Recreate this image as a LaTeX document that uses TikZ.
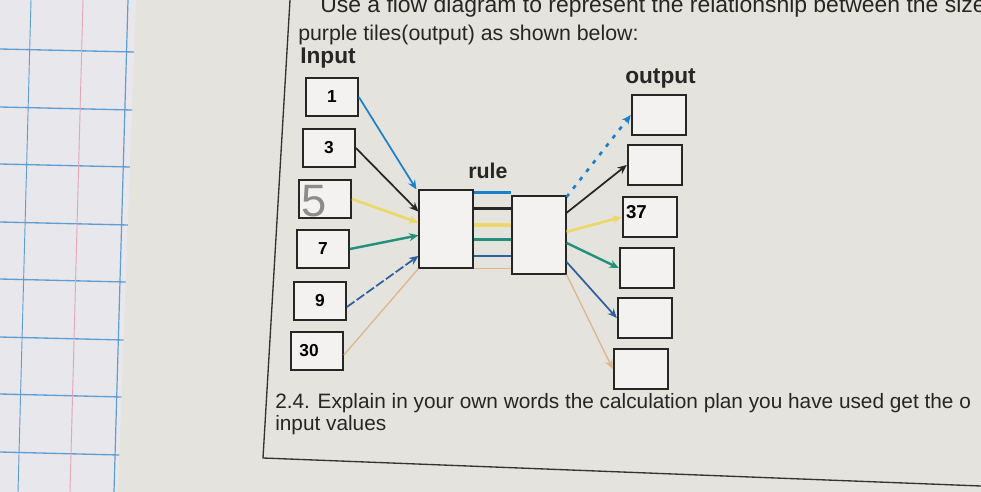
\documentclass[tikz,border=0pt]{standalone}
\usepackage{fontspec}
\setmainfont{Liberation Sans}
\usetikzlibrary{calc,arrows.meta}
\definecolor{paper}{HTML}{E4E3DE}
\definecolor{pad}{HTML}{E8E7EC}
\definecolor{gridblue}{HTML}{5E9ED3}
\definecolor{marginpink}{HTML}{E2A6B4}
\definecolor{penblue}{HTML}{1F80C9}
\definecolor{penyellow}{HTML}{EBD868}
\definecolor{penteal}{HTML}{22907A}
\definecolor{pennavy}{HTML}{305F9E}
\definecolor{penorange}{HTML}{DDB78C}
\definecolor{pencil}{HTML}{8C8C8C}
\tikzset{
  tile/.style={draw=black!85, line width=1.3pt, fill=white!55!paper,
    minimum width=39pt, minimum height=28pt, inner sep=0pt,
    font=\fontsize{13}{13}\selectfont\bfseries},
  outtile/.style={tile, minimum width=41pt, minimum height=30pt},
  rulebox/.style={tile, minimum width=40pt, minimum height=58pt},
  penline/.style={line width=1.3pt, -{Stealth[length=7pt,width=6pt]}},
  body/.style={inner sep=0pt, text=black!85, font=\fontsize{16}{18}\selectfont},
}
\begin{document}
\begin{tikzpicture}[x=0.75pt,y=-0.75pt]
\useasboundingbox (0,0) rectangle (981,492);
\clip (0,0) rectangle (981,492);
% paper
\fill[paper] (0,0) rectangle (981,492);
\fill[pad] (0,0) -- (136,0) -- (118,492) -- (0,492) -- cycle;
\foreach \y in {49,107,164,222,279,337,394,452}
  \draw[gridblue, line width=1pt] (0,\y) -- ({136-\y*0.037},\y+3);
\draw[gridblue, line width=0.7pt] (31,0) -- (18,492);
\draw[marginpink, line width=0.7pt] (83,0) -- (70,492);
\draw[gridblue, line width=0.9pt] (128,0) -- (114,492);
% worksheet frame
\draw[black!80, line width=1pt] (290,0) -- (263,458) -- (981,486);
% question text
\node[body, anchor=base west, font=\fontsize{17.2}{18}\selectfont] (q1) at (320,13) {Use a flow diagram to represent the relationship between the size};
\node[body, anchor=base west] (q2) at (298,41) {purple tiles(output) as shown below:};
\node[body, anchor=base west, font=\fontsize{17}{17}\selectfont\bfseries] (inlab) at (300,64) {Input};
\node[body, anchor=base west, font=\fontsize{17}{17}\selectfont\bfseries] (outlab) at (625,84) {output};
\node[body, anchor=base west, font=\fontsize{16}{16}\selectfont\bfseries] (rulelab) at (468,178) {rule};
% input tiles
\node[tile] (in1) at (332,97) {1};
\node[tile] (in3) at (329,148) {3};
\node[tile] (in5) at (325,199) {};
\node[anchor=west, inner sep=0pt, text=pencil, font=\fontsize{34}{34}\selectfont] (five) at ($(in5.west)+(3,2)$) {5};
\node[tile] (in7) at (323,249) {7};
\node[tile] (in9) at (320,301) {9};
\node[tile] (in30) at (317,351) {\hspace*{-12pt}30};
% rule boxes
\node[rulebox] (ruleL) at (446,229) {};
\node[rulebox] (ruleR) at (539,235) {};
\foreach \f/\c/\w in {0.04/penblue/2.6, 0.24/black!85/1.6, 0.45/penyellow/2.6, 0.63/penteal/2.6, 0.84/pennavy/1.6, 1/penorange/1}
  \draw[\c, line width=\w pt] ($(ruleL.north east)!\f!(ruleL.south east)$) coordinate (m) -- (m -| ruleR.west);
% output tiles
\node[outtile] (out1) at (659,115) {};
\node[outtile] (out2) at (655,165) {};
\node[outtile] (out3) at (650,217) {};
\node[anchor=west, inner sep=0pt, font=\fontsize{14}{14}\selectfont\bfseries] (val) at ($(out3.west)+(4,-5)$) {37};
\node[outtile] (out4) at (647,268) {};
\node[outtile] (out5) at (645,318) {};
\node[outtile] (out6) at (641,369) {};
% arrows into the rule
\draw[penline, penblue] (in1.east) -- ($(ruleL.north west)+(-2,0)$);
\draw[penline, black!85] (in3.east) -- ($(ruleL.north west)!0.28!(ruleL.south west)$);
\draw[penline, penyellow, line width=2pt] (in5.east) -- ($(ruleL.north west)!0.42!(ruleL.south west)$);
\draw[penline, penteal, line width=1.8pt] (in7.east) -- ($(ruleL.north west)!0.58!(ruleL.south west)$);
\draw[penline, pennavy, dash pattern=on 7pt off 2pt] ($(in9.east)+(0,6)$) -- ($(ruleL.north west)!0.84!(ruleL.south west)$);
\draw[penorange, line width=1pt] ($(in30.east)+(0,4)$) -- (ruleL.south west);
% arrows out of the rule
\draw[penline, penblue, line width=2pt, dash pattern=on 3pt off 5pt] ($(ruleR.north east)!0.02!(ruleR.south east)$) -- (out1.west);
\draw[penline, black!85] ($(ruleR.north east)!0.22!(ruleR.south east)$) -- (out2.west);
\draw[penline, penyellow, line width=2pt] ($(ruleR.north east)!0.46!(ruleR.south east)$) -- (out3.west);
\draw[penline, penteal, line width=1.8pt] ($(ruleR.north east)!0.6!(ruleR.south east)$) -- (out4.west);
\draw[penline, pennavy] ($(ruleR.north east)!0.84!(ruleR.south east)$) -- (out5.west);
\draw[penline, penorange, line width=1pt] (ruleR.south east) -- (out6.west);
% next question
\node[body, anchor=base west, font=\fontsize{15.6}{18}\selectfont] (q3) at (275,408) {2.4. Explain in your own words the calculation plan you have used get the o};
\node[body, anchor=base west, font=\fontsize{15.6}{18}\selectfont] (q4) at (275,430) {input values};
\end{tikzpicture}
\end{document}
